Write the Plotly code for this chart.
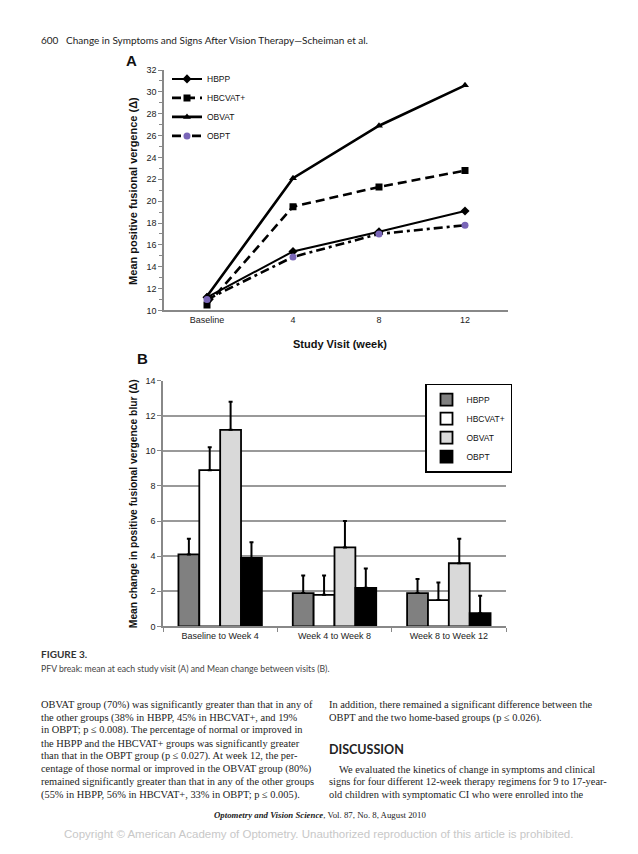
import plotly.graph_objects as go

W, H = 638, 854
OFF = 8  # the page body adds an 8px margin; positions below are page pixels
def px(x): return (x - OFF) / W
def py(y): return 1 - (y - OFF) / H

# ---------------- Data ----------------
visits = ["Baseline", "4", "8", "12"]
groups = ["HBPP", "HBCVAT+", "OBVAT", "OBPT"]
pfv_hbpp = [11.2, 15.4, 17.2, 19.1]
pfv_hbcvat = [10.5, 19.5, 21.3, 22.8]
pfv_obvat = [11.3, 22.1, 26.9, 30.6]
pfv_obpt = [11.0, 14.9, 17.0, 17.8]

periods = ["Baseline to Week 4", "Week 4 to Week 8", "Week 8 to Week 12"]
chg_hbpp = [4.1, 1.9, 1.9]
chg_hbcvat = [8.9, 1.8, 1.5]
chg_obvat = [11.2, 4.5, 3.6]
chg_obpt = [3.9, 2.2, 0.75]
err_hbpp = [0.9, 1.0, 0.8]
err_hbcvat = [1.3, 1.1, 1.0]
err_obvat = [1.6, 1.5, 1.4]
err_obpt = [0.9, 1.1, 1.0]

fig = go.Figure()

# ---------------- Panel A ----------------
line_specs = [
    (pfv_hbpp, "HBPP", "solid", 2, "diamond", "black"),
    (pfv_hbcvat, "HBCVAT+", "9px,5px", 2.6, "square", "black"),
    (pfv_obvat, "OBVAT", "solid", 2.6, "triangle-up", "black"),
    (pfv_obpt, "OBPT", "9px,4px,3px,4px", 2.6, "circle", "#7a66b8"),
]
for vals, name, dash, lw, sym, mc in line_specs:
    fig.add_trace(go.Scatter(
        x=visits, y=vals, name=name, mode="lines+markers",
        line=dict(color="black", width=lw, dash=dash),
        marker=dict(symbol=sym, size=7, color=mc),
        xaxis="x", yaxis="y", legend="legend"))

# ---------------- Panel B ----------------
bar_specs = [
    (chg_hbpp, err_hbpp, "HBPP", "#808080"),
    (chg_hbcvat, err_hbcvat, "HBCVAT+", "#ffffff"),
    (chg_obvat, err_obvat, "OBVAT", "#d9d9d9"),
    (chg_obpt, err_obpt, "OBPT", "#000000"),
]
for vals, errs, name, col in bar_specs:
    fig.add_trace(go.Bar(
        x=periods, y=vals, name=name,
        marker=dict(color=col, line=dict(color="black", width=1.8)),
        error_y=dict(type="data", array=errs, arrayminus=[0] * len(errs),
                     symmetric=False, color="black", thickness=2, width=2),
        xaxis="x2", yaxis="y2", legend="legend2"))

axfont = dict(family="Liberation Sans, Arial", size=9, color="#222")
fig.update_layout(
    width=W, height=H, margin=dict(l=0, r=0, t=0, b=0),
    paper_bgcolor="white", plot_bgcolor="rgba(0,0,0,0)",
    showlegend=True,
    barmode="group", bargap=0.27, bargroupgap=0,
    xaxis=dict(domain=[px(164), px(508)], anchor="y", type="category",
               range=[-0.5, 3.5], showline=True, linecolor="#888", linewidth=1.5,
               ticks="", showgrid=False, tickfont=axfont),
    yaxis=dict(domain=[py(309), py(65.7)], anchor="x", range=[10, 32], dtick=2,
               showline=True, linecolor="#888", linewidth=1.5, ticks="outside",
               ticklen=4, tickcolor="#888", showgrid=False, zeroline=False,
               minor=dict(dtick=1, ticks="outside", ticklen=3, tickcolor="#888"),
               tickfont=axfont),
    xaxis2=dict(domain=[px(163), px(506)], anchor="y2", type="category",
                showline=True, linecolor="#888", linewidth=1.5,
                ticks="outside", tickson="boundaries", ticklen=4, tickcolor="#888",
                showgrid=False, tickfont=axfont),
    yaxis2=dict(domain=[py(628.7), py(380)], anchor="x2", range=[0, 14], dtick=2,
                showline=True, linecolor="#888", linewidth=1.5, ticks="outside",
                ticklen=4, tickcolor="#888", showgrid=True, gridcolor="#999",
                gridwidth=1.5, zeroline=False, tickfont=axfont),
    legend=dict(x=px(167), y=py(60), xanchor="left", yanchor="top",
                bgcolor="rgba(0,0,0,0)", borderwidth=0, itemwidth=30,
                tracegroupgap=0,
                font=dict(family="Liberation Sans, Arial", size=8.5, color="#111")),
    legend2=dict(x=px(425), y=py(383), xanchor="left", yanchor="top",
                 bgcolor="white", bordercolor="black", borderwidth=1.5,
                 itemwidth=30, tracegroupgap=0,
                 font=dict(family="Liberation Sans, Arial", size=8.5, color="#111")),
)

ann = []
def text(x, y, s, size, family, color="#111", xanchor="left", angle=0, yanchor="middle"):
    ann.append(dict(x=px(x), y=py(y), xref="paper", yref="paper", text=s,
                    showarrow=False, xanchor=xanchor, yanchor=yanchor, textangle=angle,
                    font=dict(size=size, family=family, color=color)))

SANS = "Liberation Sans, Arial"
SERIF = "Liberation Serif, Times New Roman"
HUM = "Lato, Open Sans"

# chart labels
text(124, 56, "<b>A</b>", 15, SANS)
text(135, 358, "<b>B</b>", 15, SANS)
text(133, 188, "<b>Mean positive fusional vergence (Δ)</b>", 11, SANS, xanchor="center", angle=-90)
text(133, 505, "<b>Mean change in positive fusional vergence blur (Δ)</b>", 10.3, SANS, xanchor="center", angle=-90)
text(340, 343, "<b>Study Visit (week)</b>", 11, SANS, xanchor="center")

# page text
text(39, 35, "600&nbsp;&nbsp;&nbsp;Change in Symptoms and Signs After Vision Therapy—Scheiman et al.", 10, HUM, color="#222")
text(39, 657, "<b>FIGURE 3.</b>", 10, HUM, color="#333")
text(39, 671, "PFV break: mean at each study visit (A) and Mean change between visits (B).", 8.7, HUM, color="#444")

left_lines = [
    "OBVAT group (70%) was significantly greater than that in any of",
    "the other groups (38% in HBPP, 45% in HBCVAT+, and 19%",
    "in OBPT; p ≤ 0.008). The percentage of normal or improved in",
    "the HBPP and the HBCVAT+ groups was significantly greater",
    "than that in the OBPT group (p ≤ 0.027). At week 12, the per-",
    "centage of those normal or improved in the OBVAT group (80%)",
    "remained significantly greater than that in any of the other groups",
    "(55% in HBPP, 56% in HBCVAT+, 33% in OBPT; p ≤ 0.005).",
]
for i, s in enumerate(left_lines):
    text(39, 708 + 13 * i, s, 10.4, SERIF, color="#222")

right_lines = [
    (327, 708, "In addition, there remained a significant difference between the"),
    (327, 721, "OBPT and the two home-based groups (p ≤ 0.026)."),
    (337, 773, "We evaluated the kinetics of change in symptoms and clinical"),
    (327, 786, "signs for four different 12-week therapy regimens for 9 to 17-year-"),
    (327, 799, "old children with symptomatic CI who were enrolled into the"),
]
for x, y, s in right_lines:
    text(x, y, s, 10.4, SERIF, color="#222")
text(327, 753, "<b>DISCUSSION</b>", 12.5, HUM, color="#222")

text(320, 820, "<b><i>Optometry and Vision Science</i></b>, Vol. 87, No. 8, August 2010", 8.8, SERIF, color="#222", xanchor="center")
text(318, 839, "Copyright © American Academy of Optometry. Unauthorized reproduction of this article is prohibited.", 11.5, SANS, color="#c8c8c8", xanchor="center")

fig.update_layout(annotations=ann)
fig.write_html("out.html")
